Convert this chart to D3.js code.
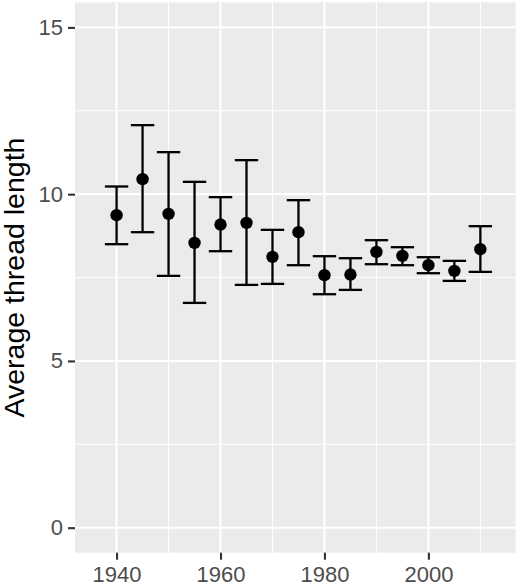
<!DOCTYPE html>
<html>
<head>
<meta charset="utf-8">
<script src="https://cdn.jsdelivr.net/npm/d3@7"></script>
<style>
  body { margin: 0; background: #fff; }
  svg text { font-family: "Liberation Sans", Arial, sans-serif; }
</style>
</head>
<body>
<svg id="chart" width="519" height="585"></svg>
<script>
// values
const years = [1940, 1945, 1950, 1955, 1960, 1965, 1970, 1975, 1980, 1985, 1990, 1995, 2000, 2005, 2010];
const means = [9.37, 10.45, 9.41, 8.54, 9.09, 9.14, 8.12, 8.86, 7.57, 7.59, 8.27, 8.15, 7.87, 7.70, 8.35];
const upper = [10.23, 12.07, 11.26, 10.37, 9.91, 11.02, 8.93, 9.82, 8.14, 8.08, 8.62, 8.41, 8.11, 8.00, 9.04];
const lower = [8.50, 8.86, 7.55, 6.74, 8.29, 7.28, 7.31, 7.87, 7.00, 7.13, 7.90, 7.87, 7.63, 7.40, 7.67];
const xTicks = [1940, 1960, 1980, 2000];
const xMinor = [1950, 1970, 1990, 2010];
const yTicks = [0, 5, 10, 15];
const yMinor = [2.5, 7.5, 12.5];

let svg = d3.select('#chart');

let pLeft = 75, pRight = 515.7, pTop = 2.4, pBottom = 552.7;

const x = d3.scaleLinear().domain([1932, 2016.8]).range([pLeft, pRight]);
const y = d3.scaleLinear().domain([-0.75, 15.75]).range([pBottom, pTop]);

// panel
svg.append('rect')
  .attr('x', pLeft).attr('y', pTop)
  .attr('width', pRight - pLeft).attr('height', pBottom - pTop)
  .attr('fill', '#EBEBEB');

// grid
let grid = svg.append('g');
grid.selectAll('.ymin').data(yMinor).enter().append('line')
  .attr('x1', pLeft).attr('x2', pRight)
  .attr('y1', d => y(d)).attr('y2', d => y(d))
  .attr('stroke', '#fff').attr('stroke-width', 1);
grid.selectAll('.xmin').data(xMinor).enter().append('line')
  .attr('y1', pTop).attr('y2', pBottom)
  .attr('x1', d => x(d)).attr('x2', d => x(d))
  .attr('stroke', '#fff').attr('stroke-width', 1);
grid.selectAll('.ymaj').data(yTicks).enter().append('line')
  .attr('x1', pLeft).attr('x2', pRight)
  .attr('y1', d => y(d)).attr('y2', d => y(d))
  .attr('stroke', '#fff').attr('stroke-width', 2.1);
grid.selectAll('.xmaj').data(xTicks).enter().append('line')
  .attr('y1', pTop).attr('y2', pBottom)
  .attr('x1', d => x(d)).attr('x2', d => x(d))
  .attr('stroke', '#fff').attr('stroke-width', 2.1);

// axes
const yAxis = d3.axisLeft(y).tickValues(yTicks).tickSize(7).tickPadding(5);
const xAxis = d3.axisBottom(x).tickValues(xTicks).tickFormat(d3.format('d')).tickSize(7).tickPadding(6);

let gy = svg.append('g').attr('transform', 'translate(' + pLeft + ',0)').call(yAxis);
let gx = svg.append('g').attr('transform', 'translate(0,' + pBottom + ')').call(xAxis);

[gx, gy].forEach(g => {
  g.select('.domain').remove();
  g.selectAll('.tick line').attr('stroke', '#333').attr('stroke-width', 2.1);
  g.selectAll('.tick text')
    .attr('fill', '#4D4D4D')
    .style('font-size', '22px')
    .style('font-family', '"Liberation Sans", Arial, sans-serif');
});
gx.selectAll('.tick text').attr('dy', '0.72em');

// axis title
svg.append('text')
  .text('Average thread length')
  .attr('transform', 'translate(23.5,' + ((pTop + pBottom) / 2) + ') rotate(-90)')
  .attr('text-anchor', 'middle')
  .style('font-size', '28.5px')
  .attr('fill', '#000');

// error bars
let capHalf = 2.25;
let bars = svg.append('g').attr('stroke', '#000').attr('stroke-width', 2.3);
years.forEach(function(yr, i) {
  bars.append('line')
    .attr('x1', x(yr)).attr('x2', x(yr))
    .attr('y1', y(upper[i])).attr('y2', y(lower[i]));
  bars.append('line')
    .attr('x1', x(yr - capHalf)).attr('x2', x(yr + capHalf))
    .attr('y1', y(upper[i])).attr('y2', y(upper[i]));
  bars.append('line')
    .attr('x1', x(yr - capHalf)).attr('x2', x(yr + capHalf))
    .attr('y1', y(lower[i])).attr('y2', y(lower[i]));
});

// points
svg.append('g').selectAll('circle')
  .data(years)
  .enter()
  .append('circle')
  .attr('cx', d => x(d))
  .attr('cy', (d, i) => y(means[i]))
  .attr('r', 6.2)
  .attr('fill', '#000');
</script>
</body>
</html>
